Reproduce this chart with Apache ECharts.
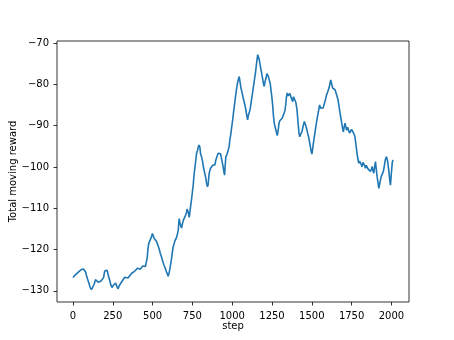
<!DOCTYPE html>
<html>
<head>
<meta charset="utf-8">
<script src="https://cdn.jsdelivr.net/npm/echarts@6/dist/echarts.min.js"></script>
<style>html,body{margin:0;padding:0;background:#fff}#c{width:454px;height:340px}</style>
</head>
<body>
<div id="c"></div>
<script>
var steps = [0,10,20,30,42,50,59,66,74,80,84,92,101,108,116,126,133,141,151,158,168,176,184,192,199,207,214,222,231,238,245,252,258,268,275,283,290,298,306,315,325,336,346,357,367,377,388,398,406,415,422,430,438,445,450,455,461,466,471,476,481,486,492,499,505,510,517,524,532,541,548,556,563,570,578,587,593,598,603,608,614,619,624,629,635,640,645,650,656,661,664,667,672,677,682,687,692,698,703,708,713,716,719,724,730,734,738,744,749,755,760,765,770,776,782,786,791,797,801,808,814,820,828,835,839,845,849,855,860,864,870,878,884,891,897,905,912,920,927,935,943,948,952,956,960,967,974,980,985,991,996,1003,1008,1013,1020,1028,1033,1038,1044,1050,1055,1062,1069,1076,1084,1090,1097,1102,1108,1113,1118,1125,1132,1140,1147,1153,1160,1165,1170,1176,1181,1186,1191,1196,1201,1207,1212,1218,1222,1228,1233,1239,1243,1249,1254,1259,1264,1270,1274,1279,1283,1289,1294,1299,1304,1309,1314,1320,1325,1331,1336,1341,1346,1352,1357,1362,1367,1374,1380,1385,1390,1395,1400,1407,1413,1419,1424,1431,1438,1445,1453,1460,1465,1470,1475,1480,1486,1491,1496,1501,1508,1516,1524,1532,1540,1549,1556,1564,1571,1578,1585,1593,1600,1608,1614,1619,1625,1631,1638,1646,1651,1656,1664,1673,1680,1688,1693,1698,1704,1709,1714,1719,1725,1730,1737,1744,1750,1757,1764,1771,1778,1784,1790,1795,1800,1805,1810,1816,1821,1826,1832,1837,1842,1847,1852,1858,1863,1868,1874,1879,1884,1889,1895,1900,1905,1910,1915,1921,1928,1935,1942,1950,1956,1962,1969,1976,1983,1988,1994,2000,2005,2009];
var rewards = [-126.8,-126.3,-126.0,-125.6,-125.4,-124.9,-125.2,-124.7,-124.9,-125.5,-126.2,-127.2,-128.3,-129.2,-129.7,-129.5,-128.4,-127.3,-127.0,-127.9,-128.3,-127.6,-128.0,-126.8,-125.2,-124.9,-125.0,-126.3,-127.5,-128.6,-129.2,-128.7,-128.8,-128.1,-128.9,-129.5,-128.8,-128.5,-127.8,-127.4,-126.7,-126.5,-126.9,-126.5,-125.8,-125.4,-125.2,-124.9,-124.5,-124.3,-124.8,-124.9,-124.0,-123.6,-124.4,-124.1,-123.0,-122.0,-119.8,-118.5,-118.9,-118.1,-117.0,-116.1,-116.8,-117.3,-117.6,-118.0,-118.8,-119.8,-120.9,-121.8,-122.8,-123.6,-124.4,-125.4,-125.9,-126.5,-125.8,-124.8,-123.4,-122.2,-120.6,-119.4,-118.6,-117.9,-117.6,-117.1,-116.2,-115.3,-113.8,-112.5,-113.6,-114.3,-114.8,-113.9,-113.0,-112.6,-112.1,-111.6,-111.0,-110.2,-109.8,-111.0,-112.2,-111.0,-109.8,-108.0,-106.4,-104.4,-102.0,-100.4,-98.8,-96.7,-96.0,-95.3,-94.7,-95.2,-96.8,-97.6,-98.7,-100.2,-101.6,-102.8,-104.0,-104.8,-104.2,-101.6,-100.8,-100.3,-100.0,-99.6,-99.9,-99.5,-98.4,-97.4,-96.7,-97.1,-96.8,-98.4,-100.0,-101.2,-102.0,-99.6,-97.5,-97.0,-96.6,-95.2,-93.5,-92.1,-90.6,-88.6,-86.9,-85.4,-83.2,-80.9,-79.8,-78.9,-78.1,-79.6,-80.9,-82.0,-83.3,-84.4,-85.8,-87.2,-88.6,-87.4,-86.7,-85.9,-84.6,-82.8,-80.9,-78.8,-76.9,-74.9,-72.8,-73.4,-74.0,-75.4,-76.5,-77.6,-78.6,-79.8,-80.5,-79.2,-78.6,-77.4,-77.8,-78.2,-79.0,-79.8,-81.2,-83.0,-85.0,-87.6,-89.4,-90.4,-91.0,-91.8,-92.4,-91.0,-89.4,-88.8,-88.6,-88.9,-88.2,-88.4,-87.8,-86.4,-85.0,-83.0,-82.1,-82.8,-82.9,-82.2,-82.5,-83.6,-84.2,-83.0,-83.4,-82.9,-84.4,-86.2,-89.0,-91.6,-92.7,-92.0,-91.5,-90.2,-89.0,-89.8,-90.4,-91.1,-92.0,-92.7,-94.0,-95.1,-96.2,-96.9,-94.8,-92.7,-90.6,-88.6,-86.9,-85.0,-85.8,-86.2,-85.7,-85.4,-83.8,-82.5,-81.8,-80.9,-79.8,-78.9,-79.9,-80.9,-80.7,-81.3,-81.1,-81.7,-83.6,-85.8,-87.6,-89.4,-90.6,-91.5,-90.2,-89.4,-90.3,-91.1,-90.4,-90.7,-91.8,-91.5,-90.9,-91.1,-91.9,-92.7,-94.8,-96.7,-98.2,-99.1,-98.6,-98.3,-99.4,-99.9,-98.9,-98.7,-99.7,-100.3,-99.6,-99.5,-100.4,-100.7,-100.2,-101.1,-100.6,-99.9,-100.9,-101.5,-99.8,-98.7,-100.6,-102.3,-103.6,-105.2,-103.8,-102.4,-101.8,-101.0,-99.6,-98.2,-97.5,-98.6,-100.7,-102.6,-104.4,-101.4,-99.1,-98.3];
var xTicks = [0,250,500,750,1000,1250,1500,1750,2000];
var yTicks = [-130,-120,-110,-100,-90,-80,-70];
var xLabel = 'step';
var yLabel = 'Total moving reward';

var data = steps.map(function(s,i){return [s, rewards[i]];});
var font = 'DejaVu Sans';
function fmt(v){return String(v).replace('-', '\u2212');}
var chart = echarts.init(document.getElementById('c'), null, {renderer:'canvas'});
chart.setOption({
  animation:false,
  backgroundColor:'#fff',
  grid:{left:57,right:45,top:41,bottom:38,show:true,borderColor:'#000',borderWidth:0.8,backgroundColor:'transparent',containLabel:false,outerBoundsMode:'none'},
  xAxis:{
    type:'value', min:-100.5, max:2110.5,
    name:xLabel, nameLocation:'middle', nameGap:19, nameMoveOverlap:false,
    nameTextStyle:{fontFamily:font,fontSize:10,color:'#000'},
    axisLine:{show:false,onZero:false},
    splitLine:{show:false},
    axisTick:{show:true,length:3.5,lineStyle:{color:'#000',width:0.8},customValues:xTicks},
    axisLabel:{show:true,fontFamily:font,fontSize:10,color:'#000',margin:9,customValues:xTicks,formatter:fmt}
  },
  yAxis:{
    type:'value', min:-132.7, max:-69.5,
    name:yLabel, nameLocation:'middle', nameGap:39, nameRotate:90, nameMoveOverlap:false,
    nameTextStyle:{fontFamily:font,fontSize:10,color:'#000'},
    axisLine:{show:false,onZero:false},
    splitLine:{show:false},
    axisTick:{show:true,length:3.5,lineStyle:{color:'#000',width:0.8},customValues:yTicks},
    axisLabel:{show:true,fontFamily:font,fontSize:10,color:'#000',margin:8,customValues:yTicks,formatter:fmt}
  },
  series:[{type:'line',data:data,showSymbol:false,symbol:'none',lineStyle:{color:'#1f77b4',width:1.6},itemStyle:{color:'#1f77b4'}}]
});
</script>
</body>
</html>
